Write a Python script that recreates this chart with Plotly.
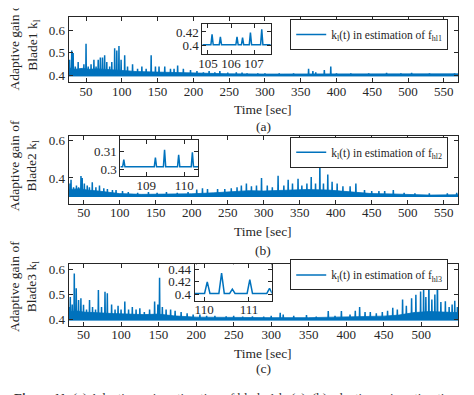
import plotly.graph_objects as go

# page body has an 8px default margin: the figure is sized/offset to fill the 474x395 view
OFF = 8
W, H = 474 - OFF, 395 - OFF
BLUE = "#0072BD"
AX = "#262626"
FONT = "Liberation Serif, Times New Roman, serif"

# ---------------- Panel (a): Blade 1 ----------------
a_spk_t = [27, 30, 32, 35, 39, 43, 47, 50, 53, 57, 61, 64, 67, 70, 73, 76, 79, 83, 86, 90,
           93, 96, 99, 104, 108, 115, 122, 128, 134, 141, 147, 152, 160, 168, 173, 178, 186, 196, 205, 214,
           222, 230, 237, 248, 260, 268, 275, 290, 300, 320, 340, 361, 367, 371, 383, 392, 400, 420, 445, 470,
           490, 505, 530, 565]
a_spk_v = [0.47, 0.51, 0.50, 0.44, 0.46, 0.43, 0.45, 0.54, 0.44, 0.45, 0.47, 0.44, 0.47, 0.48, 0.48, 0.49, 0.46, 0.44, 0.46, 0.52,
           0.51, 0.53, 0.47, 0.49, 0.44, 0.45, 0.43, 0.44, 0.43, 0.49, 0.44, 0.44, 0.44, 0.43, 0.43, 0.445, 0.43, 0.425, 0.42, 0.415,
           0.42, 0.415, 0.42, 0.413, 0.415, 0.413, 0.41, 0.41, 0.41, 0.41, 0.41, 0.43, 0.42, 0.415, 0.425, 0.44, 0.41, 0.41, 0.41, 0.412,
           0.41, 0.412, 0.41, 0.41]
a_env_t = [25.5, 35, 45, 55, 65, 75, 85, 95, 105, 120, 135, 150, 170, 190, 215, 250, 300, 350, 400, 450, 500, 540, 570]
a_env_v = [0.435, 0.428, 0.432, 0.428, 0.43, 0.428, 0.427, 0.427, 0.422, 0.418, 0.417, 0.413, 0.412, 0.41, 0.409, 0.408,
           0.407, 0.407, 0.408, 0.407, 0.408, 0.407, 0.408]
a_floor = 0.397
a_base = 0.401
a_ins_t = [105.18, 105.54, 106.26, 106.50, 106.84, 107.33]
a_ins_v = [0.4166, 0.413, 0.413, 0.412, 0.419, 0.4237]
a_ins_base = 0.4015

# ---------------- Panel (b): Blade 2 ----------------
b_spk_t = [31, 32.5, 36, 40, 43, 46.3, 48, 51, 55, 58, 62, 67, 72, 78, 83, 90, 95, 104, 112, 125,
           140, 152, 165, 180, 195, 207, 215, 222, 236, 246, 255, 263, 269, 276, 283, 290, 297, 305, 312, 320,
           328, 334, 340, 347.7, 353, 360, 366, 372, 378, 383, 389, 395, 402, 410, 420, 428, 440, 450, 460, 468,
           480, 495, 510, 530, 555, 568]
b_spk_v = [0.37, 0.39, 0.35, 0.36, 0.35, 0.41, 0.40, 0.37, 0.36, 0.35, 0.377, 0.35, 0.36, 0.345, 0.34, 0.335, 0.335, 0.33, 0.325, 0.32,
           0.325, 0.32, 0.325, 0.32, 0.325, 0.338, 0.345, 0.34, 0.34, 0.34, 0.345, 0.35, 0.36, 0.37, 0.355, 0.36, 0.40, 0.36, 0.35, 0.412,
           0.36, 0.39, 0.37, 0.395, 0.36, 0.37, 0.405, 0.37, 0.488, 0.37, 0.418, 0.38, 0.37, 0.355, 0.355, 0.37, 0.335, 0.33, 0.33, 0.33,
           0.335, 0.32, 0.318, 0.318, 0.318, 0.32]
b_env_t = [29, 35, 45, 55, 70, 85, 100, 130, 160, 200, 230, 260, 280, 300, 330, 360, 390, 410, 430, 450, 480, 500, 530, 570]
b_env_v = [0.335, 0.34, 0.342, 0.335, 0.33, 0.322, 0.316, 0.312, 0.312, 0.315, 0.32, 0.328, 0.332, 0.33, 0.334, 0.338,
           0.335, 0.33, 0.325, 0.316, 0.314, 0.31, 0.308, 0.31]
b_floor = 0.298
b_base = 0.302
b_ins_t = [108.41, 109.24, 109.48, 109.85, 110.21]
b_ins_v = [0.3055, 0.3067, 0.3109, 0.3082, 0.3095]
b_ins_base = 0.3015

# ---------------- Panel (c): Blade 3 ----------------
c_spk_t = [31, 32.4, 35, 37.7, 40.3, 43.4, 46.5, 50, 54, 58, 62, 66, 69.8, 74, 78.6, 81.7, 87.4, 92, 96, 100,
           105, 110, 115, 120, 125, 131, 138, 144.7, 149, 151.3, 155, 160, 166, 172, 180, 188, 196, 205, 214, 225,
           240, 250, 262, 275, 290, 300, 312, 316, 330, 347, 360, 376, 385, 393.5, 405, 412, 417.8, 425, 432, 440,
           448, 455, 461.9, 468, 475, 480, 487, 492.7, 499, 503, 506, 510, 514, 518, 521.4, 526, 532, 537, 541, 544.5,
           548]
c_spk_v = [0.45, 0.49, 0.46, 0.583, 0.524, 0.478, 0.485, 0.459, 0.44, 0.478, 0.45, 0.44, 0.518, 0.45, 0.511, 0.505, 0.46, 0.44, 0.455, 0.44,
           0.472, 0.44, 0.45, 0.44, 0.445, 0.43, 0.44, 0.472, 0.46, 0.566, 0.45, 0.44, 0.44, 0.435, 0.43, 0.425, 0.42, 0.42, 0.415, 0.415,
           0.413, 0.415, 0.412, 0.413, 0.412, 0.415, 0.427, 0.42, 0.415, 0.418, 0.412, 0.434, 0.415, 0.434, 0.42, 0.435, 0.45, 0.43, 0.43, 0.425,
           0.43, 0.435, 0.447, 0.44, 0.48, 0.455, 0.485, 0.499, 0.512, 0.53, 0.49, 0.60, 0.48, 0.50, 0.60, 0.47, 0.473, 0.45, 0.46, 0.475,
           0.45]
c_env_t = [30, 40, 50, 60, 75, 90, 110, 130, 150, 170, 200, 250, 300, 350, 400, 420, 450, 470, 490, 510, 530, 549]
c_env_v = [0.43, 0.435, 0.43, 0.428, 0.426, 0.424, 0.422, 0.42, 0.422, 0.415, 0.41, 0.408, 0.408, 0.408, 0.41, 0.412,
           0.414, 0.418, 0.428, 0.432, 0.43, 0.428]
c_floor = 0.397
c_base = 0.401
c_ins_t = [110.07, 110.39, 110.63, 111.02, 111.46]
c_ins_v = [0.420, 0.434, 0.4084, 0.4237, 0.4095]
c_ins_base = 0.4016

x_ticks_ab = [50, 100, 150, 200, 250, 300, 350, 400, 450, 500, 550]
x_ticks_c = [50, 100, 150, 200, 250, 300, 350, 400, 450, 500]


def spike_series(ts, vs, base, w, x0, x1):
    xs, ys = [x0], [base]
    for t, v in sorted(zip(ts, vs)):
        xs += [t - w, t, t + w]
        ys += [base, v, base]
    xs.append(x1)
    ys.append(base)
    return xs, ys


def px_x(p):
    return (p - OFF) / W


def px_y(p):
    return 1 - (p - OFF) / H


fig = go.Figure()

panels = [
    dict(n="", env_t=a_env_t, env_v=a_env_v, floor=a_floor, base=a_base, st=a_spk_t, sv=a_spk_v,
         xr=[25.5, 570], yr=[0.371, 0.658], yt=[0.4, 0.5, 0.6], xt=x_ticks_ab, top=14, bot=80,
         leg="legend", lab="f<sub>hl1</sub>", blade="Blade1", ytc=42, tt=108, cap="(a)", capy=125,
         it=a_ins_t, iv=a_ins_v, ib=a_ins_base, iw=0.05, ixr=[104.76, 107.72], iyr=[0.388, 0.432],
         ixt=[105, 106, 107], iyt=[0.4, 0.42], iyl=["0.4", "0.42"], ibox=(200, 269, 20.7, 51.7), legy=16),
    dict(n="2", env_t=b_env_t, env_v=b_env_v, floor=b_floor, base=b_base, st=b_spk_t, sv=b_spk_v,
         xr=[29, 570], yr=[0.262, 0.625], yt=[0.4, 0.6], xt=x_ticks_ab, top=134.3, bot=202.7,
         leg="legend2", lab="f<sub>hl2</sub>", blade="Blade2", ytc=164, tt=231, cap="(b)", capy=250,
         it=b_ins_t, iv=b_ins_v, ib=b_ins_base, iw=0.03, ixr=[108.32, 110.36], iyr=[0.2963, 0.3164],
         ixt=[109, 110], iyt=[0.3, 0.31], iyl=["0.3", "0.31"], ibox=(117.3, 195.7, 138.3, 175), legy=135),
    dict(n="3", env_t=c_env_t, env_v=c_env_v, floor=c_floor, base=c_base, st=c_spk_t, sv=c_spk_v,
         xr=[30, 549], yr=[0.376, 0.622], yt=[0.4, 0.5, 0.6], xt=x_ticks_c, top=263.3, bot=326,
         leg="legend3", lab="f<sub>hl3</sub>", blade="Blade3", ytc=286, tt=354, cap="(c)", capy=369,
         it=c_ins_t, iv=c_ins_v, ib=c_ins_base, iw=0.06, ixr=[109.79, 111.51], iyr=[0.39, 0.448],
         ixt=[110, 111], iyt=[0.4, 0.42, 0.44], iyl=["0.4", "0.42", "0.44"], ibox=(192.3, 270, 264, 300.7), legy=259),
]

axis_common = dict(showline=True, linecolor=AX, linewidth=1, mirror="allticks", ticks="inside",
                   ticklen=4, tickcolor=AX, tickwidth=1, showgrid=False, zeroline=False,
                   tickfont=dict(family=FONT, size=13, color=AX))

layout = dict(width=W, height=H, autosize=False, margin=dict(l=0, r=0, t=0, b=0),
              paper_bgcolor="white", plot_bgcolor="white", showlegend=True, annotations=[])

L, R = 65, 458
for i, p in enumerate(panels):
    xa = "x" + p["n"]
    ya = "y" + p["n"]
    # dense band
    fig.add_trace(go.Scatter(x=p["env_t"], y=[p["floor"]] * len(p["env_t"]), mode="lines",
                             line=dict(width=0, color=BLUE), showlegend=False, hoverinfo="skip",
                             xaxis=xa, yaxis=ya))
    fig.add_trace(go.Scatter(x=p["env_t"], y=p["env_v"], mode="lines", fill="tonexty", fillcolor=BLUE,
                             line=dict(width=0.8, color=BLUE), showlegend=False, hoverinfo="skip",
                             xaxis=xa, yaxis=ya))
    sx, sy = spike_series(p["st"], p["sv"], p["base"], 0.4, p["xr"][0], p["xr"][1])
    fig.add_trace(go.Scatter(x=sx, y=sy, mode="lines", line=dict(width=1.5, color=BLUE),
                             name="k<sub>l</sub>(t) in estimation of " + p["lab"], legend=p["leg"],
                             xaxis=xa, yaxis=ya))
    # inset
    k = str(4 + i)
    ix, iy = spike_series(p["it"], p["iv"], p["ib"], p["iw"], p["ixr"][0], p["ixr"][1])
    fig.add_trace(go.Scatter(x=ix, y=iy, mode="lines", line=dict(width=1.5, color=BLUE),
                             showlegend=False, xaxis="x" + k, yaxis="y" + k))

    layout["xaxis" + p["n"]] = dict(axis_common, domain=[px_x(L), px_x(R)], range=p["xr"],
                                    tickvals=p["xt"], anchor=ya, ticklabelstandoff=-3)
    layout["yaxis" + p["n"]] = dict(axis_common, domain=[px_y(p["bot"]), px_y(p["top"])], range=p["yr"],
                                    tickvals=p["yt"], ticktext=[str(v) for v in p["yt"]], anchor=xa)
    x0, x1, y0, y1 = p["ibox"]
    layout["xaxis" + k] = dict(axis_common, domain=[px_x(x0), px_x(x1)], range=p["ixr"],
                               tickvals=p["ixt"], anchor="y" + k, ticklabelstandoff=-3)
    layout["yaxis" + k] = dict(axis_common, domain=[px_y(y1), px_y(y0)], range=p["iyr"],
                               tickvals=p["iyt"], ticktext=p["iyl"], anchor="x" + k)

    layout[p["leg"]] = dict(x=px_x(448), xanchor="right", y=px_y(p["legy"]), yanchor="top",
                            bgcolor="white", bordercolor=AX, borderwidth=1,
                            font=dict(family=FONT, size=11.5, color=AX), tracegroupgap=0)

    ann = layout["annotations"]
    ann.append(dict(text="Adaptive gain of<br>" + p["blade"] + " k<sub>l</sub>", textangle=-90,
                    xref="paper", yref="paper", x=px_x(20), y=px_y(p["ytc"]), xanchor="center",
                    yanchor="middle", showarrow=False, font=dict(family=FONT, size=13.5, color=AX)))
    ann.append(dict(text="Time [sec]", xref="paper", yref="paper", x=px_x((L + R) / 2), y=px_y(p["tt"]),
                    xanchor="center", yanchor="middle", showarrow=False,
                    font=dict(family=FONT, size=13.5, color=AX)))
    ann.append(dict(text=p["cap"], xref="paper", yref="paper", x=px_x((L + R) / 2), y=px_y(p["capy"]),
                    xanchor="center", yanchor="middle", showarrow=False,
                    font=dict(family=FONT, size=13.5, color=AX)))

layout["annotations"].append(dict(
    text="<b>Figure 11.</b> (a) Adaptive gain estimation of blade 1 k<sub>l</sub> (a), (b) adaptive gain estimation of blade 2 k<sub>l</sub> (b), (c)",
    xref="paper", yref="paper", x=0, y=px_y(389), xanchor="left", yanchor="top", showarrow=False,
    font=dict(family=FONT, size=13, color="#333333")))

fig.update_layout(**layout)
fig.write_html("out.html")
